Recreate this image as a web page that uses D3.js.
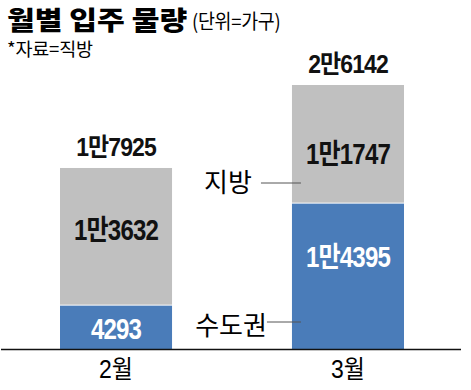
<!DOCTYPE html>
<html>
<head>
<meta charset="utf-8">
<script src="https://cdn.jsdelivr.net/npm/d3@7"></script>
<style>
  body { margin: 0; background: #fff; }
  svg { display: block; }
</style>
</head>
<body>
<svg></svg>
<script>
var months   = ["2월", "3월"];
var capital  = [4293, 14395];   // 수도권
var regional = [13632, 11747];  // 지방
var totalLbl = ["1만7925", "2만6142"];
var capLbl   = ["4293", "1만4395"];
var regLbl   = ["1만3632", "1만1747"];

var width = 471, height = 390;
var svg = d3.select("svg").attr("width", width).attr("height", height);

var x = d3.scaleBand().domain(months).range([60, 404]).paddingInner(0.517).paddingOuter(0);
var y = d3.scaleLinear().domain([0, 26142]).range([349, 85]);

var numFont = "'Liberation Sans','Arial','Noto Sans CJK KR',sans-serif";
var korFont = "'Noto Sans CJK KR','Noto Sans',sans-serif";

// title
svg.append("text").attr("transform", "translate(7,30) scale(1.16,1)")
   .attr("font-family", korFont).attr("font-size", 26).attr("font-weight", 900)
   .text("월별 입주 물량");
svg.append("text").attr("transform", "translate(192,29) scale(0.92,1)")
   .attr("font-family", korFont).attr("font-size", 20).attr("letter-spacing", -0.3)
   .text("(단위=가구)");
svg.append("text").attr("x", 7).attr("y", 56).attr("font-family", korFont)
   .attr("font-size", 18.5).attr("letter-spacing", -0.2).text("*자료=직방");

var rows = months.map(function(m, i){
  return {m: m, cap: capital[i], reg: regional[i], tot: capital[i] + regional[i], i: i};
});

var g = svg.append("g");

g.selectAll("rect.cap").data(rows).enter().append("rect")
  .attr("x", function(d){ return x(d.m); })
  .attr("width", x.bandwidth())
  .attr("y", function(d){ return y(d.cap); })
  .attr("height", function(d){ return y(0) - y(d.cap); })
  .attr("fill", "#4a7cb9");

g.selectAll("rect.reg").data(rows).enter().append("rect")
  .attr("x", function(d){ return x(d.m); })
  .attr("width", x.bandwidth())
  .attr("y", function(d){ return y(d.tot); })
  .attr("height", function(d){ return y(d.cap) - y(d.tot) - 1; })
  .attr("fill", "#c0c0c0");

// axis line
svg.append("line").attr("x1", 1).attr("x2", 461).attr("y1", 349.5).attr("y2", 349.5)
   .attr("stroke", "#111").attr("stroke-width", 1.6);

// month labels
svg.selectAll("text.mon").data(rows).enter().append("text")
  .attr("transform", function(d){ return "translate(" + (x(d.m) + x.bandwidth()/2) + ",378) scale(0.92,1)"; })
  .attr("text-anchor", "middle")
  .attr("font-family", numFont).attr("font-size", 25)
  .text(function(d){ return d.m; });

var cx = function(d){ return x(d.m) + x.bandwidth()/2; };

function numLabel(sel, yfn, txt, col, size, sx){
  sel.append("text")
    .attr("transform", function(d){ return "translate(" + cx(d) + "," + yfn(d) + ") scale(" + sx + ",1)"; })
    .attr("text-anchor", "middle")
    .attr("font-family", numFont).attr("font-weight", "bold")
    .attr("font-size", size).attr("letter-spacing", -1)
    .attr("fill", col)
    .text(txt);
}

// small nudges of the inside labels, as placed in the original
var regNudge = [-7, 10], capNudge = [2, -19];

var lg = g.selectAll("g.lab").data(rows).enter().append("g");
numLabel(lg, function(d){ return y(d.tot) - 12; }, function(d){ return totalLbl[d.i]; }, "#111", 25, 0.92);
numLabel(lg, function(d){ return (y(d.cap) + y(d.tot))/2 + regNudge[d.i] + 10; }, function(d){ return regLbl[d.i]; }, "#111", 29, 0.83);
numLabel(lg, function(d){ return (y(0) + y(d.cap))/2 + capNudge[d.i] + 10; }, function(d){ return capLbl[d.i]; }, "#fff", 29, 0.83);

// series labels next to the March bar
var bx = x("3월");
svg.append("text").attr("x", bx - 40).attr("y", 192).attr("text-anchor", "end")
   .attr("font-family", korFont).attr("font-size", 26).text("지방");
svg.append("line").attr("x1", bx - 31).attr("x2", bx + 9).attr("y1", 183).attr("y2", 183)
   .attr("stroke", "#555");
svg.append("text").attr("x", bx - 25).attr("y", 335).attr("text-anchor", "end")
   .attr("font-family", korFont).attr("font-size", 26).text("수도권");
svg.append("line").attr("x1", bx - 25).attr("x2", bx + 9).attr("y1", 322).attr("y2", 322)
   .attr("stroke", "#555");
</script>
</body>
</html>
